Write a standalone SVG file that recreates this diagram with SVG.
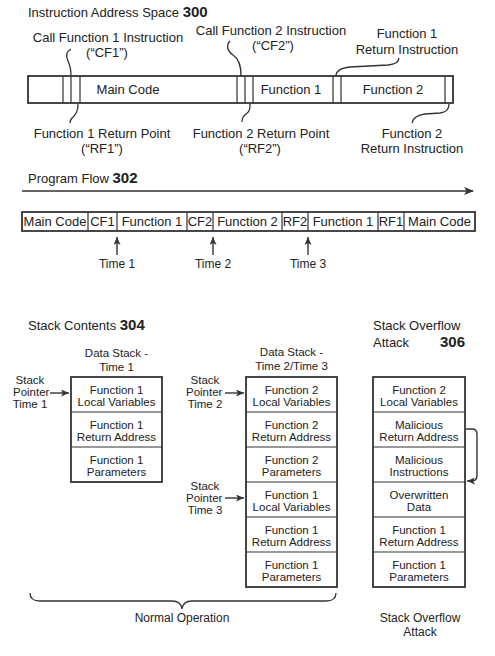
<svg xmlns="http://www.w3.org/2000/svg" width="495" height="656" viewBox="0 0 495 656">
<style>
text{font-family:"Liberation Sans",Arial,sans-serif;fill:#222}
.t13{font-size:13px}
.t12{font-size:12px}
.ts{font-size:11.5px}
.tm{text-anchor:middle}
.b{font-weight:bold;font-size:15px}
.box{fill:#fff;stroke:#333;stroke-width:1.8}
.div{stroke:#333;stroke-width:1.2;fill:none}
.cv{stroke:#333;stroke-width:1.3;fill:none}
.ln{stroke:#333;stroke-width:1.4;fill:none}
</style>
<defs>
<marker id="ah" markerWidth="10" markerHeight="8" refX="9" refY="4" orient="auto" markerUnits="userSpaceOnUse">
<path d="M0,0 L10,4 L0,8 L2.5,4 Z" fill="#333"/>
</marker>
<marker id="ahs" markerWidth="8" markerHeight="7" refX="8" refY="3.5" orient="auto" markerUnits="userSpaceOnUse">
<path d="M0,0 L8,3.5 L0,7 L2,3.5 Z" fill="#333"/>
</marker>
</defs>

<!-- Instruction address space -->
<g id="title300"><text class="t13" x="28" y="17">Instruction Address Space <tspan class="b">300</tspan></text></g>
<g id="addrbar">
<rect class="box" x="28" y="76" width="425" height="27"/>
<path class="div" d="M63,76V103M71,76V103M80,76V103M237,76V103M245,76V103M253,76V103M333,76V103M341,76V103M445,76V103"/>
<text class="t13 tm" x="128" y="94">Main Code</text>
<text class="t13 tm" x="291" y="94">Function 1</text>
<text class="t13 tm" x="393" y="94">Function 2</text>
</g>
<g id="labelCF1"><text class="t13 tm" x="108" y="42">Call Function 1 Instruction</text><text class="t13 tm" x="107" y="57">(“CF1”)</text></g>
<g id="labelCF2"><text class="t13 tm" x="271" y="35">Call Function 2 Instruction</text><text class="t13 tm" x="273" y="50">(“CF2”)</text></g>
<g id="labelF1R"><text class="t13 tm" x="407" y="38">Function 1</text><text class="t13 tm" x="407" y="54">Return Instruction</text></g>
<g id="labelRF1"><text class="t13 tm" x="102" y="138">Function 1 Return Point</text><text class="t13 tm" x="102" y="153">(“RF1”)</text></g>
<g id="labelRF2"><text class="t13 tm" x="261" y="138">Function 2 Return Point</text><text class="t13 tm" x="260" y="153">(“RF2”)</text></g>
<g id="labelF2R"><text class="t13 tm" x="412" y="138">Function 2</text><text class="t13 tm" x="412" y="153">Return Instruction</text></g>

<g id="connectors">
<path class="cv" d="M71,49 C66,52 66,57 68,61 C70,65 71,69 71,76"/>
<path class="cv" d="M78,104 C78,110 77,113 74,116 C71,119 70,120 70,123"/>
<path class="cv" d="M230,41 C226,45 227,51 233,55 C239,59 241,65 241,76"/>
<path class="cv" d="M250,104 C250,110 249,112 246,114 C243,116 242,118 242,122"/>
<path class="cv" d="M399,58 C398,63 395,64 388,65 L350,67 C340,68 336,71 336,76"/>
<path class="cv" d="M449,104 C449,110 446,112 440,113 L425,114 C417,115 413,118 412,123"/>
<!-- program flow arrow -->
<line class="ln" x1="22" y1="191" x2="473" y2="191" marker-end="url(#ah)"/>
<!-- time arrows -->
<line class="ln" x1="117" y1="255" x2="117" y2="237" marker-end="url(#ahs)"/>
<line class="ln" x1="213" y1="255" x2="213" y2="237" marker-end="url(#ahs)"/>
<line class="ln" x1="308" y1="255" x2="308" y2="237" marker-end="url(#ahs)"/>
<!-- stack pointer arrows -->
<line class="ln" x1="50" y1="393" x2="69" y2="393" marker-end="url(#ahs)"/>
<line class="ln" x1="225" y1="393" x2="244" y2="393" marker-end="url(#ahs)"/>
<line class="ln" x1="225" y1="498" x2="244" y2="498" marker-end="url(#ahs)"/>
<!-- overflow arrow -->
<path class="ln" d="M466,429 L472,429 Q477,429 477,434 L477,475 Q477,481 472,481 L467,481" marker-end="url(#ahs)"/>
<!-- brace -->
<path class="cv" d="M30,593 Q30,601 40,601 L172,601 Q181,601 182,609 Q183,601 192,601 L326,601 Q336,601 336,593"/>
</g>

<!-- Program flow -->
<g id="title302"><text class="t13" x="28" y="183">Program Flow <tspan class="b">302</tspan></text></g>
<g id="flowbar">
<rect class="box" x="22" y="212" width="453" height="19"/>
<path class="div" d="M88,212V231M117,212V231M187,212V231M213,212V231M282,212V231M308,212V231M378,212V231M404,212V231"/>
<text class="t13 tm" x="55" y="226">Main Code</text>
<text class="t13 tm" x="102.5" y="226">CF1</text>
<text class="t13 tm" x="152" y="226">Function 1</text>
<text class="t13 tm" x="200" y="226">CF2</text>
<text class="t13 tm" x="247.5" y="226">Function 2</text>
<text class="t13 tm" x="295" y="226">RF2</text>
<text class="t13 tm" x="343" y="226">Function 1</text>
<text class="t13 tm" x="391" y="226">RF1</text>
<text class="t13 tm" x="439.5" y="226">Main Code</text>
</g>
<g id="time1"><text class="t12 tm" x="117" y="268">Time 1</text></g>
<g id="time2"><text class="t12 tm" x="213" y="268">Time 2</text></g>
<g id="time3"><text class="t12 tm" x="308" y="268">Time 3</text></g>

<!-- Stack contents -->
<g id="title304"><text class="t13" x="28" y="330">Stack Contents <tspan class="b">304</tspan></text></g>
<g id="title306"><text class="t13" x="373" y="330">Stack Overflow</text><text class="t13" x="373" y="347">Attack</text><text class="b" x="465" y="347" text-anchor="end">306</text></g>

<g id="sp1"><text class="ts tm" x="30" y="384">Stack</text><text class="ts" x="13" y="396">Pointer</text><text class="ts tm" x="30" y="408">Time 1</text></g>
<g id="sp2"><text class="ts tm" x="205" y="384">Stack</text><text class="ts" x="186" y="396">Pointer</text><text class="ts tm" x="205" y="408">Time 2</text></g>
<g id="sp3"><text class="ts tm" x="205" y="490">Stack</text><text class="ts" x="186" y="502">Pointer</text><text class="ts tm" x="205" y="514">Time 3</text></g>

<g id="stack1">
<text class="ts tm" x="116.5" y="357">Data Stack -</text>
<text class="ts tm" x="116.5" y="371">Time 1</text>
<rect class="box" x="71" y="377" width="91" height="105"/>
<path class="div" d="M71,412H162M71,447H162"/>
<text class="ts tm" x="116.5" y="394">Function 1</text><text class="ts tm" x="116.5" y="406">Local Variables</text>
<text class="ts tm" x="116.5" y="429">Function 1</text><text class="ts tm" x="116.5" y="441">Return Address</text>
<text class="ts tm" x="116.5" y="464">Function 1</text><text class="ts tm" x="116.5" y="476">Parameters</text>
</g>

<g id="stack2">
<text class="ts tm" x="291.5" y="356">Data Stack -</text>
<text class="ts tm" x="291.5" y="370">Time 2/Time 3</text>
<rect class="box" x="246" y="377" width="91" height="210"/>
<path class="div" d="M246,412H337M246,447H337M246,482H337M246,517H337M246,552H337"/>
<text class="ts tm" x="291.5" y="394">Function 2</text><text class="ts tm" x="291.5" y="406">Local Variables</text>
<text class="ts tm" x="291.5" y="429">Function 2</text><text class="ts tm" x="291.5" y="441">Return Address</text>
<text class="ts tm" x="291.5" y="464">Function 2</text><text class="ts tm" x="291.5" y="476">Parameters</text>
<text class="ts tm" x="291.5" y="499">Function 1</text><text class="ts tm" x="291.5" y="511">Local Variables</text>
<text class="ts tm" x="291.5" y="534">Function 1</text><text class="ts tm" x="291.5" y="546">Return Address</text>
<text class="ts tm" x="291.5" y="569">Function 1</text><text class="ts tm" x="291.5" y="581">Parameters</text>
</g>

<g id="stack3">
<rect class="box" x="373" y="377" width="92" height="210"/>
<path class="div" d="M373,412H465M373,447H465M373,482H465M373,517H465M373,552H465"/>
<text class="ts tm" x="419" y="394">Function 2</text><text class="ts tm" x="419" y="406">Local Variables</text>
<text class="ts tm" x="419" y="429">Malicious</text><text class="ts tm" x="419" y="441">Return Address</text>
<text class="ts tm" x="419" y="464">Malicious</text><text class="ts tm" x="419" y="476">Instructions</text>
<text class="ts tm" x="419" y="499">Overwritten</text><text class="ts tm" x="419" y="511">Data</text>
<text class="ts tm" x="419" y="534">Function 1</text><text class="ts tm" x="419" y="546">Return Address</text>
<text class="ts tm" x="419" y="569">Function 1</text><text class="ts tm" x="419" y="581">Parameters</text>
</g>

<g id="normalOp"><text class="t12 tm" x="182" y="622">Normal Operation</text></g>
<g id="overflowLbl"><text class="t12 tm" x="420" y="622">Stack Overflow</text><text class="t12 tm" x="420" y="636">Attack</text></g>
</svg>
